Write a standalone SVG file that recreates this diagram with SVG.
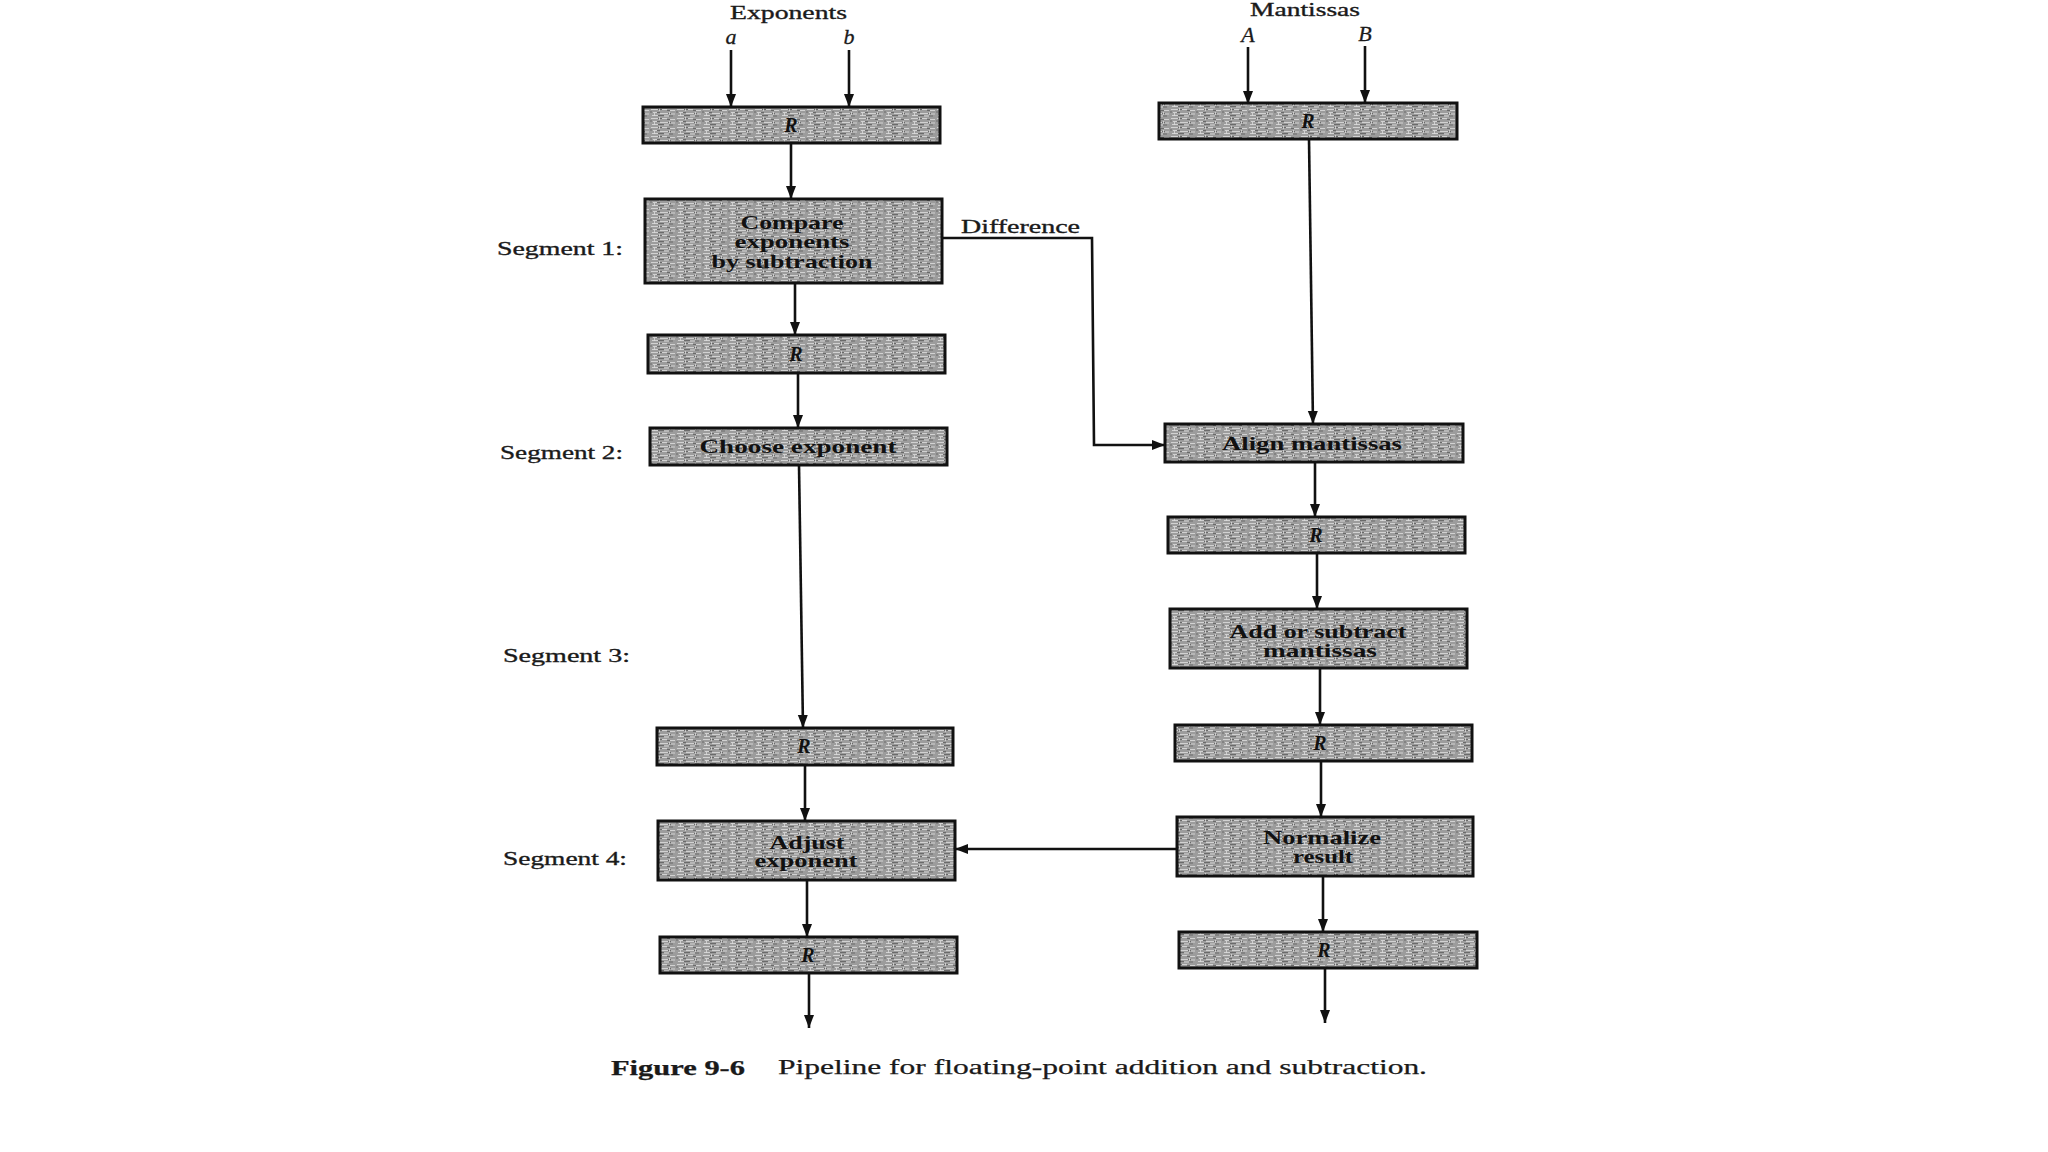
<svg xmlns="http://www.w3.org/2000/svg" width="2048" height="1152" viewBox="0 0 2048 1152">
<defs>
<pattern id="tex" width="26" height="9" patternUnits="userSpaceOnUse">
<rect width="26" height="9" fill="#9c9c9c"/>
<path d="M1 1.5h7M12 1.5h5M20 2.5h5M3 4.5h4M10 5.5h8M21 6h4M2 7.5h6M14 8h5" stroke="#d2d2d2" stroke-width="1"/>
<path d="M8 1.5h4M17 2.5h3M7 4.5h3M18 5.5h3M8 7.5h6M0 4h2M19 8h4" stroke="#6a6a6a" stroke-width="1"/>
<path d="M9.5 0v3M19.5 4v3M4.5 5v3" stroke="#dcdcdc" stroke-width="0.8"/>
</pattern>
<marker id="ah" markerUnits="userSpaceOnUse" markerWidth="14" markerHeight="11" refX="13" refY="5.5" orient="auto">
<path d="M0,0.5 L13,5.5 L0,10.5 z" fill="#111"/>
</marker>
<style>
.box{fill:url(#tex);stroke:#111;stroke-width:3}
.bt{font-family:"Liberation Serif",serif;font-weight:bold;font-size:19px;fill:#111;text-anchor:middle}
.r{font-family:"Liberation Serif",serif;font-weight:bold;font-style:italic;font-size:20px;fill:#111;text-anchor:middle}
.lbl{font-family:"Liberation Serif",serif;font-size:19px;fill:#1a1a1a;stroke:#1a1a1a;stroke-width:0.35}
.var{font-family:"Liberation Serif",serif;font-style:italic;font-size:22px;fill:#1a1a1a;text-anchor:middle;stroke:#1a1a1a;stroke-width:0.3}
.cap{font-family:"Liberation Serif",serif;font-size:20px;fill:#1a1a1a;stroke:#1a1a1a;stroke-width:0.25}
.ln{fill:none;stroke:#111;stroke-width:2.6}
</style>
</defs>
<rect width="2048" height="1152" fill="#ffffff"/>

<g id="labels">
<text class="lbl" x="730" y="19" textLength="117" lengthAdjust="spacingAndGlyphs">Exponents</text>
<text class="lbl" x="1250" y="16" textLength="110" lengthAdjust="spacingAndGlyphs">Mantissas</text>
<text class="var" x="731" y="44">a</text>
<text class="var" x="849" y="44">b</text>
<text class="var" x="1248" y="42">A</text>
<text class="var" x="1365" y="41">B</text>
<text class="lbl" x="961" y="233" textLength="119" lengthAdjust="spacingAndGlyphs">Difference</text>
<text class="lbl" x="497" y="255" textLength="126" lengthAdjust="spacingAndGlyphs">Segment 1:</text>
<text class="lbl" x="500" y="459" textLength="123" lengthAdjust="spacingAndGlyphs">Segment 2:</text>
<text class="lbl" x="503" y="662" textLength="127" lengthAdjust="spacingAndGlyphs">Segment 3:</text>
<text class="lbl" x="503" y="865" textLength="124" lengthAdjust="spacingAndGlyphs">Segment 4:</text>
<text class="cap" x="611" y="1075" font-weight="bold" textLength="134" lengthAdjust="spacingAndGlyphs">Figure 9-6</text>
<text class="cap" x="778" y="1074" textLength="649" lengthAdjust="spacingAndGlyphs">Pipeline for floating-point addition and subtraction.</text>
</g>

<g id="connectors">
<line class="ln" x1="731" y1="50" x2="731" y2="107" marker-end="url(#ah)"/>
<line class="ln" x1="849" y1="50" x2="849" y2="107" marker-end="url(#ah)"/>
<line class="ln" x1="1248" y1="47" x2="1248" y2="104" marker-end="url(#ah)"/>
<line class="ln" x1="1365" y1="46" x2="1365" y2="103" marker-end="url(#ah)"/>
<line class="ln" x1="791" y1="143" x2="791" y2="199" marker-end="url(#ah)"/>
<line class="ln" x1="795" y1="283" x2="795" y2="335" marker-end="url(#ah)"/>
<line class="ln" x1="798" y1="373" x2="798" y2="428" marker-end="url(#ah)"/>
<line class="ln" x1="799" y1="465" x2="803" y2="728" marker-end="url(#ah)"/>
<line class="ln" x1="805" y1="765" x2="805" y2="821" marker-end="url(#ah)"/>
<line class="ln" x1="807" y1="880" x2="807" y2="937" marker-end="url(#ah)"/>
<line class="ln" x1="809" y1="973" x2="809" y2="1028" marker-end="url(#ah)"/>
<line class="ln" x1="1309" y1="139" x2="1313" y2="424" marker-end="url(#ah)"/>
<polyline class="ln" points="942,238 1092,238 1094,445 1165,445" marker-end="url(#ah)"/>
<line class="ln" x1="1315" y1="462" x2="1315" y2="517" marker-end="url(#ah)"/>
<line class="ln" x1="1317" y1="553" x2="1317" y2="609" marker-end="url(#ah)"/>
<line class="ln" x1="1320" y1="668" x2="1320" y2="725" marker-end="url(#ah)"/>
<line class="ln" x1="1321" y1="761" x2="1321" y2="817" marker-end="url(#ah)"/>
<line class="ln" x1="1177" y1="849" x2="955" y2="849" marker-end="url(#ah)"/>
<line class="ln" x1="1323" y1="876" x2="1323" y2="932" marker-end="url(#ah)"/>
<line class="ln" x1="1325" y1="968" x2="1325" y2="1023" marker-end="url(#ah)"/>
</g>

<g id="rexp1"><rect class="box" x="643" y="107" width="297" height="36"/><text class="r" x="791" y="132">R</text></g>
<g id="rman1"><rect class="box" x="1159" y="103" width="298" height="36"/><text class="r" x="1308" y="128">R</text></g>
<g id="compare"><rect class="box" x="645" y="199" width="297" height="84"/>
<text class="bt" x="792" y="229" textLength="103" lengthAdjust="spacingAndGlyphs">Compare</text>
<text class="bt" x="792" y="248" textLength="115" lengthAdjust="spacingAndGlyphs">exponents</text>
<text class="bt" x="792" y="268" textLength="161" lengthAdjust="spacingAndGlyphs">by subtraction</text></g>
<g id="rexp2"><rect class="box" x="648" y="335" width="297" height="38"/><text class="r" x="796" y="361">R</text></g>
<g id="choose"><rect class="box" x="650" y="428" width="297" height="37"/><text class="bt" x="798" y="453" textLength="197" lengthAdjust="spacingAndGlyphs">Choose exponent</text></g>
<g id="align"><rect class="box" x="1165" y="424" width="298" height="38"/><text class="bt" x="1312" y="450" textLength="180" lengthAdjust="spacingAndGlyphs">Align mantissas</text></g>
<g id="rman2"><rect class="box" x="1168" y="517" width="297" height="36"/><text class="r" x="1316" y="542">R</text></g>
<g id="addsub"><rect class="box" x="1170" y="609" width="297" height="59"/>
<text class="bt" x="1318" y="638" textLength="177" lengthAdjust="spacingAndGlyphs">Add or subtract</text>
<text class="bt" x="1320" y="657" textLength="114" lengthAdjust="spacingAndGlyphs">mantissas</text></g>
<g id="rexp3"><rect class="box" x="657" y="728" width="296" height="37"/><text class="r" x="804" y="753">R</text></g>
<g id="rman3"><rect class="box" x="1175" y="725" width="297" height="36"/><text class="r" x="1320" y="750">R</text></g>
<g id="adjust"><rect class="box" x="658" y="821" width="297" height="59"/>
<text class="bt" x="807" y="849" textLength="75" lengthAdjust="spacingAndGlyphs">Adjust</text>
<text class="bt" x="806" y="867" textLength="103" lengthAdjust="spacingAndGlyphs">exponent</text></g>
<g id="normalize"><rect class="box" x="1177" y="817" width="296" height="59"/>
<text class="bt" x="1322" y="844" textLength="118" lengthAdjust="spacingAndGlyphs">Normalize</text>
<text class="bt" x="1323" y="863" textLength="60" lengthAdjust="spacingAndGlyphs">result</text></g>
<g id="rexp4"><rect class="box" x="660" y="937" width="297" height="36"/><text class="r" x="808" y="962">R</text></g>
<g id="rman4"><rect class="box" x="1179" y="932" width="298" height="36"/><text class="r" x="1324" y="957">R</text></g>
</svg>
